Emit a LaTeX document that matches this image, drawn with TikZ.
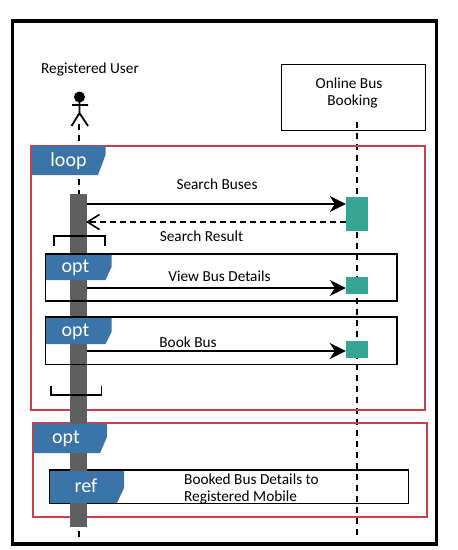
\documentclass[tikz,border=0pt]{standalone}
\usepackage{fontspec}
\setmainfont{Carlito}
\usetikzlibrary{arrows.meta}
\definecolor{tagblue}{HTML}{3A74A8}
\definecolor{fragred}{HTML}{C8404A}
\definecolor{tealbox}{HTML}{35A594}
\definecolor{barg}{HTML}{5F5F5F}
\tikzset{
  frameline/.style={draw=black,line width=3.2pt},
  fragbox/.style={draw=fragred,line width=1.8pt},
  optbox/.style={draw=black,line width=1.6pt},
  lifeline/.style={draw=black,line width=1.6pt,dash pattern=on 6pt off 5pt},
  msg/.style={draw=black,line width=2pt,-{Stealth[length=16pt,width=16pt,inset=5pt]}},
  ret/.style={draw=black,line width=1.6pt,dash pattern=on 6pt off 4pt,-{Straight Barb[length=12pt,width=15pt,line width=1.6pt]}},
  bracket/.style={draw=black,line width=1.6pt},
  tagtext/.style={text=white,font=\fontsize{20}{24}\selectfont,inner sep=0pt},
  lbl/.style={text=black,font=\fontsize{15.3}{18}\selectfont,inner sep=0pt},
  tagfill/.style={fill=tagblue,draw=none},
  tealfill/.style={fill=tealbox,draw=none,inner sep=0pt},
  barfill/.style={fill=barg,draw=none,inner sep=0pt},
}
\begin{document}
\begin{tikzpicture}[x=1pt,y=-1pt]
\useasboundingbox (0,0) rectangle (458,550);
\fill[white] (0,0) rectangle (458,550);
% outer frame
\draw[frameline] (12.5,21) rectangle (436.5,544);
% ref box
\node[draw=black,line width=1.6pt,fill=white,minimum width=359pt,minimum height=33.5pt,inner sep=0pt] (refbox) at (229,486.75) {};
% system box
\node[draw=black,line width=1.4pt,minimum width=144pt,minimum height=66pt,inner sep=0pt] (sys) at (353.5,97.5) {};
% lifelines
\coordinate (userTop) at (79,124);
\coordinate (userBot) at (79,543);
\coordinate (sysTop) at (357,122);
\coordinate (sysBot) at (357,538);
\draw[lifeline] (sysTop) -- (sysBot);
\draw[lifeline] (userTop) -- (userBot);
% red fragments
\draw[fragbox] (31,146) rectangle (425,410);
\draw[fragbox] (33,423) rectangle (427,517);
% activation bar
\node[barfill,minimum width=17pt,minimum height=333pt] (bar) at (78.5,360) {};
% opt boxes
\draw[optbox] (45.5,254) rectangle (397,301);
\draw[optbox] (45.5,317) rectangle (397,364.5);
% tags
\path[tagfill] (32,146) -- (105.5,146) -- (105.5,155) -- (98,175) -- (32,175) -- cycle;
\node[tagtext] (tloop) at (68.5,161) {loop};
\path[tagfill] (46,255) -- (111.5,255) -- (111.5,267) -- (105.5,280) -- (46,280) -- cycle;
\node[tagtext] (topt1) at (75.5,268) {opt};
\path[tagfill] (46,318) -- (111.5,318) -- (111.5,332) -- (105.5,344) -- (46,344) -- cycle;
\node[tagtext] (topt2) at (75.5,332) {opt};
\path[tagfill] (33.5,423.5) -- (107,423.5) -- (107,437) -- (100,453) -- (33.5,453) -- cycle;
\node[tagtext] (topt3) at (66,439) {opt};
\path[tagfill] (50,471) -- (124,471) -- (124,488) -- (117,503) -- (50,503) -- cycle;
\node[tagtext] (tref) at (86,486) {ref};
% teal activations
\node[tealfill,minimum width=22pt,minimum height=34pt] (a1) at (357,214) {};
\node[tealfill,minimum width=22pt,minimum height=17pt] (a2) at (357,285.5) {};
\node[tealfill,minimum width=22pt,minimum height=17pt] (a3) at (357,349.5) {};
% messages
\coordinate (m1s) at (87,204);
\coordinate (m1e) at (a1.west |- m1s);
\draw[msg] (m1s) -- (m1e);
\coordinate (m2e) at (86,222);
\coordinate (m2s) at (a1.west |- m2e);
\draw[ret] (m2s) -- (m2e);
\coordinate (m3s) at (87,288);
\coordinate (m3e) at (a2.west |- m3s);
\draw[msg] (m3s) -- (m3e);
\coordinate (m4s) at (87,351);
\coordinate (m4e) at (a3.west |- m4s);
\draw[msg] (m4s) -- (m4e);
% brackets
\draw[bracket] (54,246) -- (54,236) -- (105,236) -- (105,246);
\draw[bracket] (51,386) -- (51,395) -- (101.5,395) -- (101.5,386);
% actor
\fill[black] (79.5,97) circle (5.5);
\draw[black,line width=1.8pt] (79.5,100) -- (79.5,113) (72,105) -- (88,105) (71.5,126) -- (79.5,113) -- (88,126);
% labels
\node[lbl] (luser) at (90,69.5) {Registered User};
\node[lbl] (lsys1) at (349,83.5) {Online Bus};
\node[lbl] (lsys2) at (352.5,101.5) {Booking};
\node[lbl] (l1) at (217,184.5) {Search Buses};
\node[lbl] (l2) at (201.5,236) {Search Result};
\node[lbl] (l3) at (219.5,276) {View Bus Details};
\node[lbl] (l4) at (188,342) {Book Bus};
\node[lbl,anchor=west] (l5) at (184,479) {Booked Bus Details to};
\node[lbl,anchor=west] (l6) at (184,497) {Registered Mobile};
\end{tikzpicture}
\end{document}
